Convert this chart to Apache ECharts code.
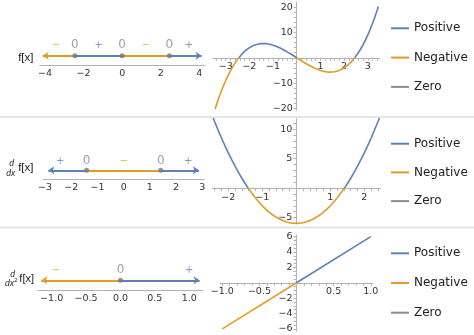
<!DOCTYPE html>
<html><head><meta charset="utf-8">
<script src="https://cdn.jsdelivr.net/npm/echarts@6/dist/echarts.min.js"></script>
<style>html,body{margin:0;padding:0;background:#fff}#c{width:474px;height:335px}</style>
</head><body><div id="c"></div>
<script>
// ---------- data ----------
const fX = [-3.45,-3.4,-3.3,-3.2,-3.1,-3.0,-2.9,-2.8,-2.7,-2.6,-2.5,-2.449,-2.4,-2.3,-2.2,-2.1,-2.0,-1.9,-1.8,-1.7,-1.6,-1.5,-1.4,-1.3,-1.2,-1.1,-1.0,-0.9,-0.8,-0.7,-0.6,-0.5,-0.4,-0.3,-0.2,-0.1,0,
  0.1,0.2,0.3,0.4,0.5,0.6,0.7,0.8,0.9,1.0,1.1,1.2,1.3,1.4,1.5,1.6,1.7,1.8,1.9,2.0,2.1,2.2,2.3,2.4,2.449,2.5,2.6,2.7,2.8,2.9,3.0,3.1,3.2,3.3,3.4,3.45];
const fY = [-20.36,-18.90,-16.14,-13.57,-11.19,-9.00,-6.99,-5.15,-3.48,-1.98,-0.63,0,0.58,1.63,2.55,3.34,4.00,4.54,4.97,5.29,5.50,5.63,5.66,5.60,5.47,5.27,5.00,4.67,4.29,3.86,3.38,2.88,2.34,1.77,1.19,0.60,0,
  -0.60,-1.19,-1.77,-2.34,-2.88,-3.38,-3.86,-4.29,-4.67,-5.00,-5.27,-5.47,-5.60,-5.66,-5.63,-5.50,-5.29,-4.97,-4.54,-4.00,-3.34,-2.55,-1.63,-0.58,0,0.63,1.98,3.48,5.15,6.99,9.00,11.19,13.57,16.14,18.90,20.36];

const dfX = [-2.45,-2.4,-2.3,-2.2,-2.1,-2.0,-1.9,-1.8,-1.7,-1.6,-1.5,-1.414,-1.4,-1.3,-1.2,-1.1,-1.0,-0.9,-0.8,-0.7,-0.6,-0.5,-0.4,-0.3,-0.2,-0.1,0,
  0.1,0.2,0.3,0.4,0.5,0.6,0.7,0.8,0.9,1.0,1.1,1.2,1.3,1.4,1.414,1.5,1.6,1.7,1.8,1.9,2.0,2.1,2.2,2.3,2.4,2.45];
const dfY = [12.01,11.28,9.87,8.52,7.23,6.00,4.83,3.72,2.67,1.68,0.75,0,-0.12,-0.93,-1.68,-2.37,-3.00,-3.57,-4.08,-4.53,-4.92,-5.25,-5.52,-5.73,-5.88,-5.97,-6.00,
  -5.97,-5.88,-5.73,-5.52,-5.25,-4.92,-4.53,-4.08,-3.57,-3.00,-2.37,-1.68,-0.93,-0.12,0,0.75,1.68,2.67,3.72,4.83,6.00,7.23,8.52,9.87,11.28,12.01];

const d2fX = [-1.0, 0, 1.0];
const d2fY = [-6, 0, 6];

// number-line sign charts
const nl1Zeros = [-2.449, 0, 2.449];
const nl1Signs = ['−', '+', '−', '+'];
const nl1SignX = [-3.43, -1.22, 1.22, 3.46];
const nl2Zeros = [-1.414, 1.414];
const nl2Signs = ['+', '−', '+'];
const nl2SignX = [-2.42, 0, 2.46];
const nl3Zeros = [0];
const nl3Signs = ['−', '+'];
const nl3SignX = [-0.94, 1.0];

// tick labels
const nl1Ticks = [-4, -2, 0, 2, 4];
const nl2Ticks = [-3, -2, -1, 0, 1, 2, 3];
const nl3Ticks = [-1.0, -0.5, 0, 0.5, 1.0];
const p1XTicks = [-3, -2, -1, 1, 2, 3];
const p1YTicks = [-20, -10, 10, 20];
const p2XTicks = [-2, -1, 1, 2];
const p2YTicks = [-5, 5, 10];
const p3XTicks = [-1.0, -0.5, 0.5, 1.0];
const p3YTicks = [-6, -4, -2, 2, 4, 6];

const legendNames = ['Positive', 'Negative', 'Zero'];
const rowLabels = ['f[x]', 'f[x]', 'f[x]'];

// ---------- style ----------
const BLUE = '#5E81B5', ORANGE = '#E19C24', GRAY = '#8c8c8c';
const AXC = '#b3b3b3', LBL = '#333', FONT = 'DejaVu Sans';

function fmt(dec) {
  return function (v) {
    v = Number(v);
    return (v < -1e-9 ? '−' : '') + Math.abs(v).toFixed(dec);
  };
}
function minorList(lo, hi, step) {
  const out = [];
  const n = Math.round((hi - lo) / step);
  for (let i = 0; i <= n; i++) out.push(+(lo + i * step).toFixed(4));
  return out;
}
function splitSign(xs, ys) {
  const pos = [], neg = [];
  xs.forEach((x, i) => {
    const y = ys[i];
    pos.push([x, y >= 0 ? y : null]);
    neg.push([x, y <= 0 ? y : null]);
  });
  return { pos, neg };
}

const grids = [
  { left: 39.6, top: 45.9, width: 165.1, height: 19.6 },   // NL row1
  { left: 212.7, top: 2.25, width: 166.9, height: 107.8 }, // plot row1
  { left: 43.15, top: 160.9, width: 161, height: 18.8 },   // NL row2
  { left: 212.3, top: 118.7, width: 168, height: 105.3 },  // plot row2
  { left: 37.9, top: 270.3, width: 165.1, height: 20 },    // NL row3
  { left: 220.1, top: 235.1, width: 152.9, height: 96.1 }  // plot row3
];

const xAxes = [], yAxes = [], series = [];

function addNumberLine(g, min, max, ticks, dec, L, zeros, signs, signX, signDist, zeroDist) {
  xAxes.push({
    type: 'value', gridIndex: g, min: min, max: max,
    axisLine: { onZero: false, lineStyle: { color: AXC, width: 1 } },
    axisTick: { show: false }, splitLine: { show: false },
    axisLabel: { customValues: ticks, formatter: fmt(dec), fontSize: 9.5, color: LBL, fontFamily: FONT, margin: 3 }
  });
  yAxes.push({ type: 'value', gridIndex: g, min: -1, max: 1, show: false });
  const b = [-L].concat(zeros).concat([L]);
  for (let i = 0; i < b.length - 1; i++) {
    const col = signs[i] === '+' ? BLUE : ORANGE;
    const sym = [i === 0 ? 'arrow' : 'none', i === b.length - 2 ? 'arrow' : 'none'];
    series.push({
      type: 'lines', coordinateSystem: 'cartesian2d', xAxisIndex: g, yAxisIndex: g,
      symbol: sym, symbolSize: 6, silent: true,
      lineStyle: { color: col, width: 2, opacity: 1 },
      data: [{ coords: [[b[i], 0], [b[i + 1], 0]] }]
    });
  }
  series.push({
    type: 'scatter', xAxisIndex: g, yAxisIndex: g, clip: false, z: 5,
    symbolSize: 5, itemStyle: { color: '#777' },
    label: { show: true, position: 'top', distance: zeroDist, formatter: '0', color: '#8a8a8a', fontSize: 12, fontFamily: FONT },
    data: zeros.map(z => [z, 0])
  });
  series.push({
    type: 'scatter', xAxisIndex: g, yAxisIndex: g, clip: false, z: 5,
    symbolSize: 0.1,
    data: signX.map((x, i) => ({
      value: [x, 0],
      label: { show: true, position: 'top', distance: signDist, formatter: signs[i],
        color: signs[i] === '+' ? BLUE : ORANGE, fontSize: 10, fontFamily: FONT }
    }))
  });
}

function addPlot(g, xmin, xmax, xLabels, xdec, xMinor, ymin, ymax, yLabels, ydec, yMinor, xs, ys) {
  const gr = grids[g];
  // place the axes through the origin (Mathematica style) via offsets
  const zeroFromBottom = gr.height * (0 - ymin) / (ymax - ymin);
  const zeroFromLeft = gr.width * (0 - xmin) / (xmax - xmin);
  xAxes.push({
    type: 'value', gridIndex: g, min: xmin, max: xmax, position: 'bottom', offset: -zeroFromBottom,
    axisLine: { onZero: false, lineStyle: { color: AXC, width: 1 } },
    axisTick: { show: true, length: 3, customValues: xMinor, lineStyle: { color: AXC } },
    splitLine: { show: false },
    axisLabel: { customValues: xLabels, formatter: fmt(xdec), fontSize: 9.5, color: LBL, fontFamily: FONT, margin: 4, hideOverlap: false }
  });
  yAxes.push({
    type: 'value', gridIndex: g, min: ymin, max: ymax, position: 'left', offset: -zeroFromLeft,
    axisLine: { onZero: false, lineStyle: { color: AXC, width: 1 } },
    axisTick: { show: true, length: 3, customValues: yMinor, lineStyle: { color: AXC } },
    splitLine: { show: false },
    axisLabel: { customValues: yLabels, formatter: fmt(ydec), fontSize: 9.5, color: LBL, fontFamily: FONT, margin: 4, hideOverlap: false }
  });
  const s = splitSign(xs, ys);
  series.push({
    name: 'Positive', type: 'line', xAxisIndex: g, yAxisIndex: g, data: s.pos,
    showSymbol: false, symbol: 'none', connectNulls: false, clip: true,
    itemStyle: { color: BLUE }, lineStyle: { color: BLUE, width: 1.6 }
  });
  series.push({
    name: 'Negative', type: 'line', xAxisIndex: g, yAxisIndex: g, data: s.neg,
    showSymbol: false, symbol: 'none', connectNulls: false, clip: true,
    itemStyle: { color: ORANGE }, lineStyle: { color: ORANGE, width: 1.6 }
  });
}

addNumberLine(0, -4.28, 4.28, nl1Ticks, 0, 4.12, nl1Zeros, nl1Signs, nl1SignX, 5, 2);
addPlot(1, -3.55, 3.5, p1XTicks, 0, minorList(-3.4, 3.4, 0.2), -20.7, 22, p1YTicks, 0, minorList(-20, 20, 2), fX, fY);
addNumberLine(2, -3.07, 3.07, nl2Ticks, 0, 2.87, nl2Zeros, nl2Signs, nl2SignX, 4, 1);
addPlot(3, -2.47, 2.47, p2XTicks, 0, minorList(-2.4, 2.4, 0.2), -6.1, 11.8, p2YTicks, 0, minorList(-6, 11, 1), dfX, dfY);
addNumberLine(4, -1.2, 1.2, nl3Ticks, 1, 1.15, nl3Zeros, nl3Signs, nl3SignX, 5, 1.5);
addPlot(5, -1.03, 1.03, p3XTicks, 1, minorList(-1, 1, 0.1), -6.3, 6.2, p3YTicks, 0, minorList(-6, 6, 0.5), d2fX, d2fY);

series.push({
  name: 'Zero', type: 'line', xAxisIndex: 1, yAxisIndex: 1, data: [],
  itemStyle: { color: GRAY }, lineStyle: { color: GRAY, width: 1.6 }
});

function legendAt(top, gap) {
  return {
    data: legendNames, orient: 'vertical', left: 391, top: top, padding: 0,
    itemGap: gap, itemWidth: 18, itemHeight: 2, icon: 'rect', selectedMode: false,
    textStyle: { fontSize: 12, color: '#222', fontFamily: FONT, lineHeight: 14 }
  };
}

const LF = 'Liberation Sans';
const graphic = [
  { type: 'rect', shape: { x: 0, y: 116, width: 474, height: 2 }, style: { fill: '#e6e6e6' }, silent: true },
  { type: 'rect', shape: { x: 0, y: 226.5, width: 474, height: 2 }, style: { fill: '#e6e6e6' }, silent: true },
  { type: 'text', x: 33.5, y: 58, style: { text: rowLabels[0], font: '11.5px "' + LF + '"', fill: '#222', align: 'right', verticalAlign: 'middle' } },
  // d/dx f[x]
  { type: 'text', x: 11.7, y: 163.3, style: { text: 'd', font: 'italic 8.5px "' + LF + '"', fill: '#222', align: 'center', verticalAlign: 'middle' } },
  { type: 'text', x: 10.7, y: 174, style: { text: 'dx', font: 'italic 8.5px "' + LF + '"', fill: '#222', align: 'center', verticalAlign: 'middle' } },
  { type: 'text', x: 33.5, y: 168.3, style: { text: rowLabels[1], font: '11.5px "' + LF + '"', fill: '#222', align: 'right', verticalAlign: 'middle' } },
  // d2/dx2 f[x]
  { type: 'text', x: 12.5, y: 274.5, style: { text: 'd', font: 'italic 8.5px "' + LF + '"', fill: '#222', align: 'center', verticalAlign: 'middle' } },
  { type: 'text', x: 9.5, y: 284, style: { text: 'dx', font: 'italic 8.5px "' + LF + '"', fill: '#222', align: 'center', verticalAlign: 'middle' } },
  { type: 'text', x: 16.0, y: 280.6, style: { text: '2', font: '6px "' + LF + '"', fill: '#222', align: 'center', verticalAlign: 'middle' } },
  { type: 'text', x: 34, y: 279, style: { text: rowLabels[2], font: '11px "' + LF + '"', fill: '#222', align: 'right', verticalAlign: 'middle' } }
];

const chart = echarts.init(document.getElementById('c'), null, { renderer: 'canvas' });
chart.setOption({
  animation: false,
  backgroundColor: '#fff',
  grid: grids,
  xAxis: xAxes,
  yAxis: yAxes,
  series: series,
  legend: [legendAt(21.3, 15.3), legendAt(136.7, 14.7), legendAt(246.3, 15.7)],
  graphic: graphic
});
</script>
</body></html>
